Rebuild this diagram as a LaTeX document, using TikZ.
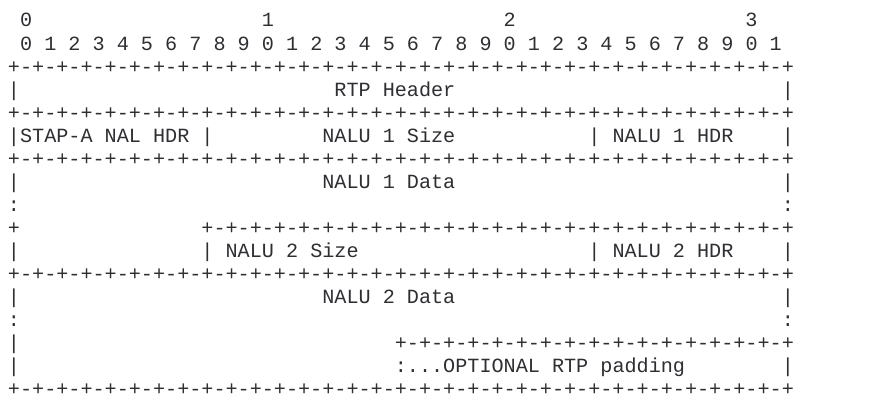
\documentclass[tikz,border=0pt]{standalone}
\usepackage{fontspec}
\setmonofont{Liberation Mono}
\definecolor{ink}{rgb}{0.18,0.18,0.2}
\begin{document}
\begin{tikzpicture}[x=1pt,y=1pt,
  txt/.style={anchor=base west,inner sep=0pt,outer sep=0pt,font=\fontsize{20.15}{23}\ttfamily,text=ink}]
\useasboundingbox (0,0) rectangle (879,-415);
\def\B{+-+-+-+-+-+-+-+-+-+-+-+-+-+-+-+-+-+-+-+-+-+-+-+-+-+-+-+-+-+-+-+-+}
\def\Bh{+-+-+-+-+-+-+-+-+-+-+-+-+-+-+-+-+-+-+-+-+-+-+-+-+}
\def\Bq{+-+-+-+-+-+-+-+-+-+-+-+-+-+-+-+-+}
% \T{name}{row}{col}{text}
\newcommand\T[4]{\node[txt] (#1) at ({8+12.09*#3},{-(20+23*#2)-7}) {#4};}
\T{h0}{0}{1}{0}\T{h1}{0}{21}{1}\T{h2}{0}{41}{2}\T{h3}{0}{61}{3}
\T{digits}{1}{1}{0 1 2 3 4 5 6 7 8 9 0 1 2 3 4 5 6 7 8 9 0 1 2 3 4 5 6 7 8 9 0 1}
\T{b1}{2}{0}{\B}
\T{p1a}{3}{0}{|}\T{rtp}{3}{27}{RTP Header}\T{p1b}{3}{64}{|}
\T{b2}{4}{0}{\B}
\T{p2a}{5}{0}{|STAP-A NAL HDR |}\T{n1s}{5}{26}{NALU 1 Size}\T{p2b}{5}{48}{| NALU 1 HDR}\T{p2c}{5}{64}{|}
\T{b3}{6}{0}{\B}
\T{p3a}{7}{0}{|}\T{n1d}{7}{26}{NALU 1 Data}\T{p3b}{7}{64}{|}
\T{c1a}{8}{0}{:}\T{c1b}{8}{64}{:}
\T{b4a}{9}{0}{+}\T{b4b}{9}{16}{\Bh}
\T{p4a}{10}{0}{|}\T{n2s}{10}{16}{| NALU 2 Size}\T{p4b}{10}{48}{| NALU 2 HDR}\T{p4c}{10}{64}{|}
\T{b5}{11}{0}{\B}
\T{p5a}{12}{0}{|}\T{n2d}{12}{26}{NALU 2 Data}\T{p5b}{12}{64}{|}
\T{c2a}{13}{0}{:}\T{c2b}{13}{64}{:}
\T{p6a}{14}{0}{|}\T{b6}{14}{32}{\Bq}
\T{p7a}{15}{0}{|}\T{pad}{15}{32}{:...OPTIONAL RTP padding}\T{p7b}{15}{64}{|}
\T{b7}{16}{0}{\B}
\end{tikzpicture}
\end{document}
